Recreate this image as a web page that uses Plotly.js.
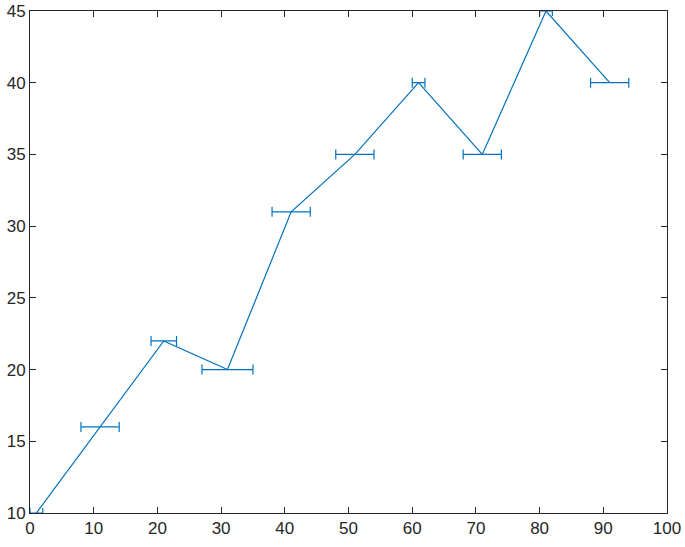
<!DOCTYPE html>
<html>
<head>
<meta charset="utf-8">
<script src="https://cdn.plot.ly/plotly-3.0.1.min.js"></script>
<style>
  html, body { margin: 0; padding: 0; background: #fff; }
  #chart { width: 685px; height: 547px; }
</style>
</head>
<body>
<div id="chart"></div>
<script>
// Measured values, horizontal error bars
const xValues = [1, 11, 21, 31, 41, 51, 61, 71, 81, 91];
const yValues = [10, 16, 22, 20, 31, 35, 40, 35, 45, 40];
const xErrors = [1, 3, 2, 4, 3, 3, 1, 3, 1, 3];

const xTicks = [0, 10, 20, 30, 40, 50, 60, 70, 80, 90, 100];
const yTicks = [10, 15, 20, 25, 30, 35, 40, 45];

const lineColor = '#0072BD';

const trace = {
    x: xValues,
    y: yValues,
    mode: 'lines',
    type: 'scatter',
    cliponaxis: false,
    line: { color: lineColor, width: 1.2 },
    error_x: {
        type: 'data',
        array: xErrors,
        visible: true,
        color: lineColor,
        thickness: 1.2,
        width: 5
    },
    hoverinfo: 'x+y'
};

const axisStyle = {
    showgrid: false,
    zeroline: false,
    showline: true,
    linecolor: '#262626',
    linewidth: 1,
    mirror: 'ticks',
    ticks: 'inside',
    ticklen: 6,
    tickcolor: '#262626',
    tickfont: { family: 'Liberation Sans, Arial, sans-serif', size: 17, color: '#262626' }
};

const layout = {
    width: 685,
    height: 547,
    margin: { l: 30, r: 18, t: 11, b: 34 },
    paper_bgcolor: '#fff',
    plot_bgcolor: '#fff',
    showlegend: false,
    xaxis: Object.assign({}, axisStyle, {
        range: [0, 100],
        tickvals: xTicks
    }),
    yaxis: Object.assign({}, axisStyle, {
        range: [10, 45],
        tickvals: yTicks
    })
};

Plotly.newPlot('chart', [trace], layout, { displayModeBar: false, staticPlot: true });
</script>
</body>
</html>
